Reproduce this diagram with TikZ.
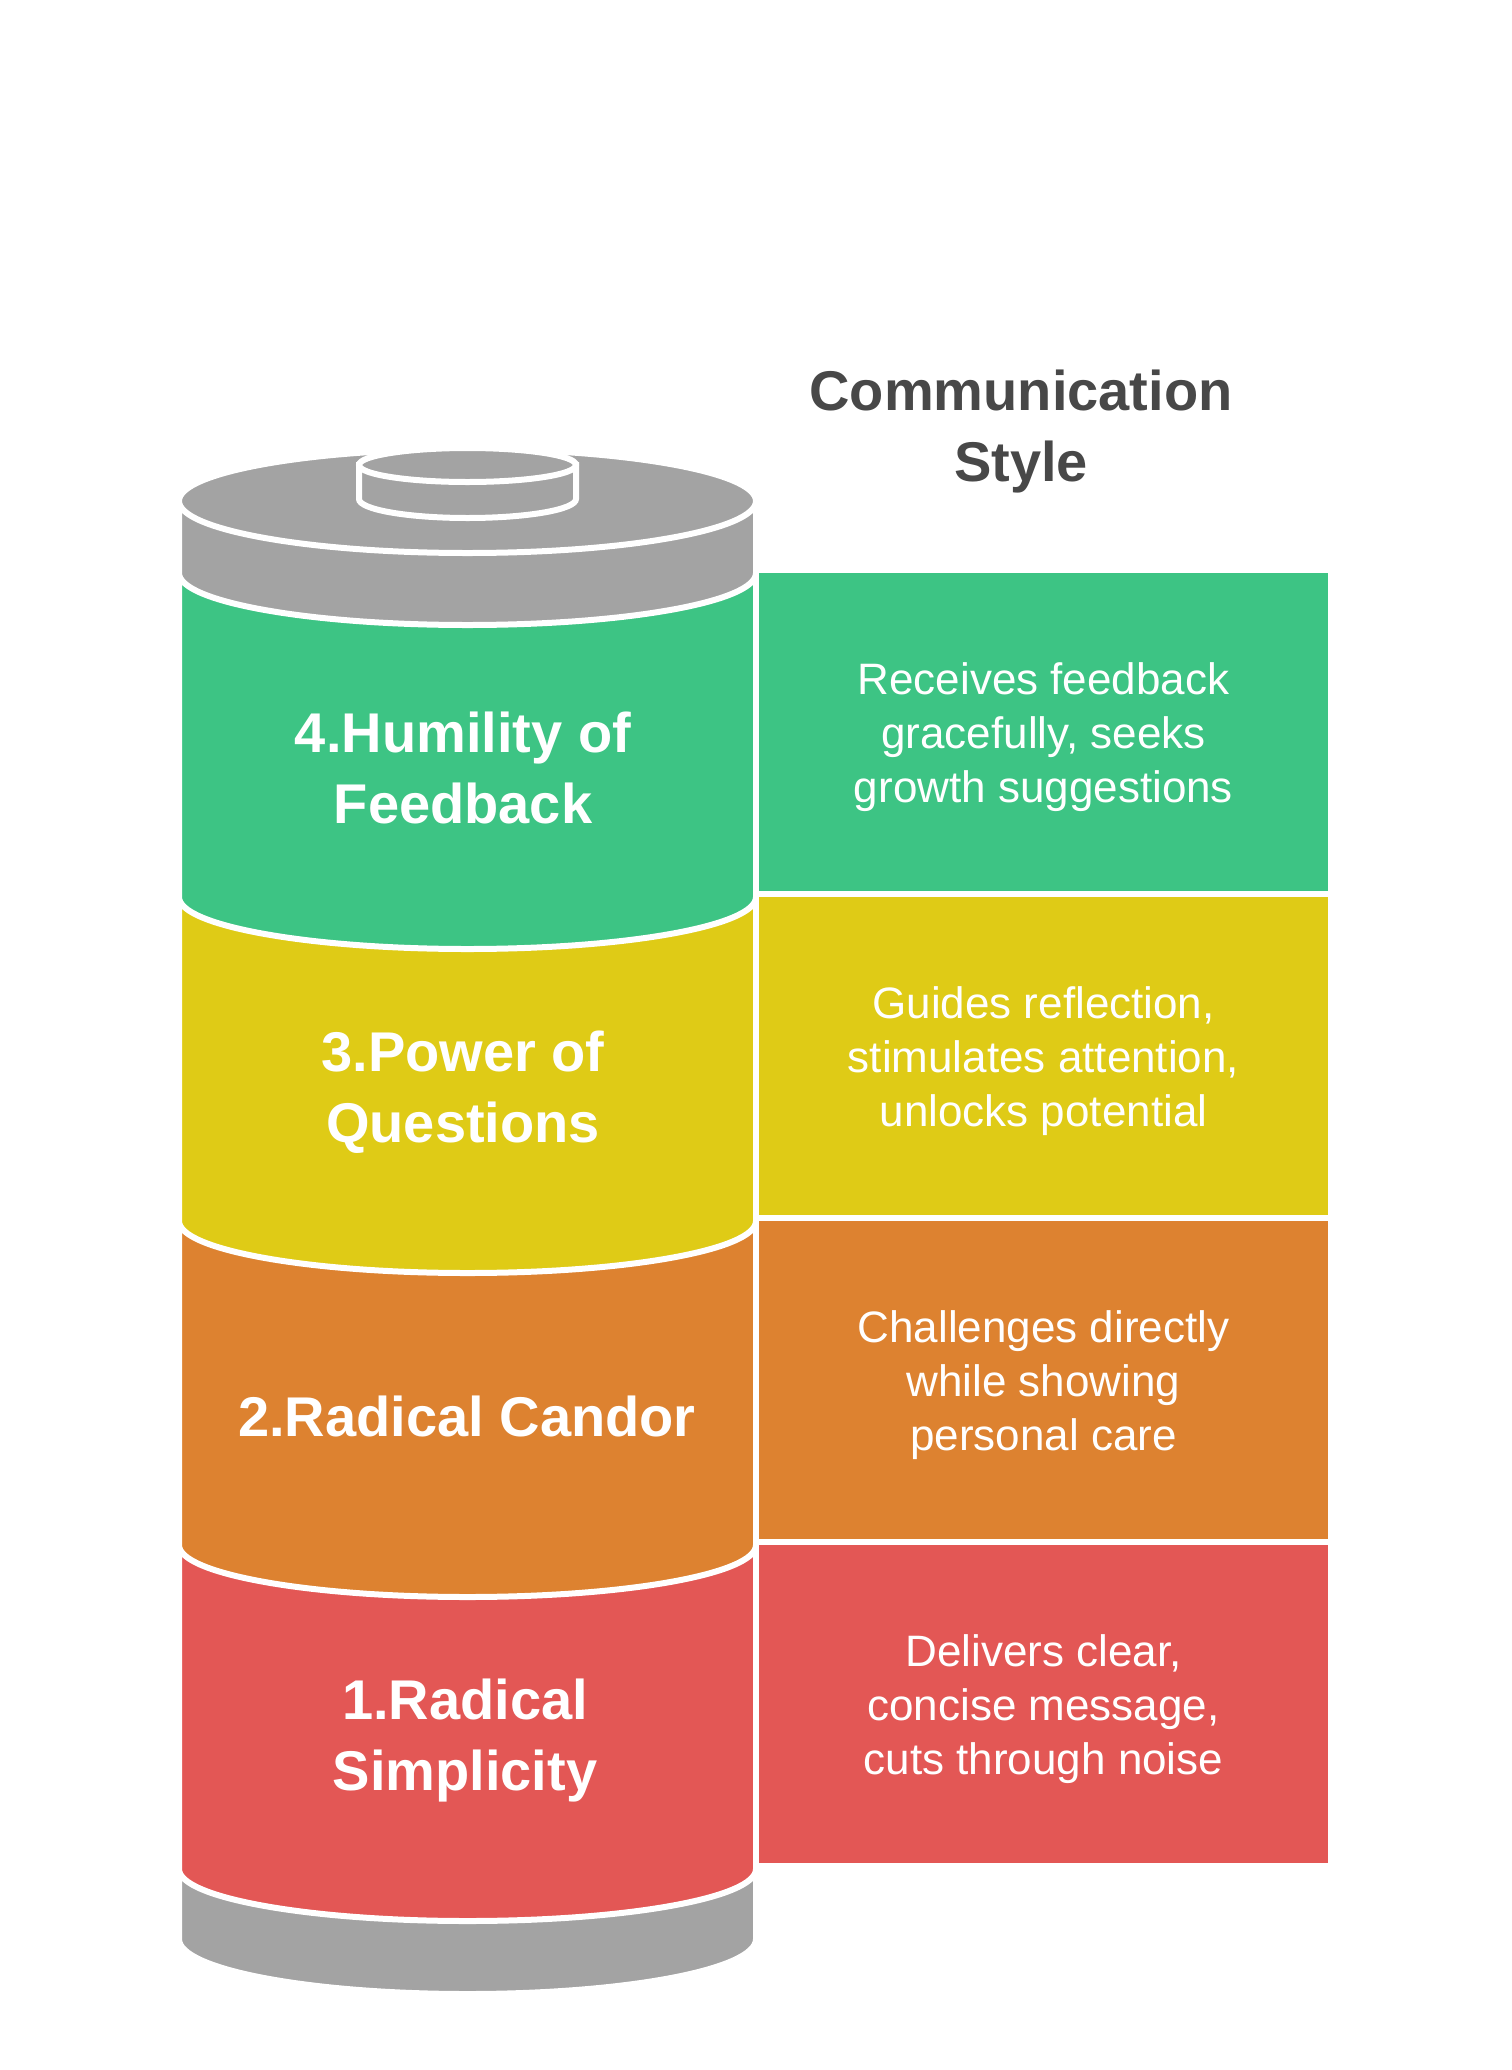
\documentclass[tikz,border=0pt]{standalone}
\usepackage{fontspec}
\setmainfont{Liberation Sans}
\definecolor{cgreen}{HTML}{3DC484}
\definecolor{cyellow}{HTML}{DFCB16}
\definecolor{corange}{HTML}{DD8230}
\definecolor{cred}{HTML}{E35755}
\definecolor{cgray}{HTML}{A3A3A3}
\definecolor{ctitle}{HTML}{484848}
\newcommand\battseg[4]{%
  \fill[#3, draw=white, line width=6pt] (179,-#1) -- (179,-#2)
    arc[start angle=180, end angle=360, x radius=288.5, y radius=#4] -- (756,-#1) -- cycle;}
\begin{document}
\begin{tikzpicture}[x=1pt,y=1pt,
  box/.style={rectangle, inner sep=0pt, minimum width=569pt, minimum height=318pt,
    text=white, align=center, font=\fontsize{44}{54}\selectfont},
  lab/.style={text=white, align=center, inner sep=0pt, font=\fontsize{56}{71}\selectfont\bfseries},
  ttl/.style={text=ctitle, align=center, inner sep=0pt, font=\fontsize{56}{71}\selectfont\bfseries}]
\useasboundingbox (0,0) rectangle (1512,-2070);
% battery body, bottom to top
\battseg{1859}{1939}{cgray}{55}
\battseg{1535}{1869}{cred}{52}
\battseg{1211}{1545}{corange}{52}
\battseg{887}{1221}{cyellow}{52}
\battseg{563}{897}{cgreen}{52}
\battseg{502}{573}{cgray}{52}
\fill[cgray, draw=white, line width=6pt] (467.5,-501) ellipse[x radius=288.5, y radius=52];
% cap
\fill[cgray, draw=white, line width=6pt] (359,-465) -- (359,-499)
  arc[start angle=180, end angle=360, x radius=108.5, y radius=19] -- (576,-465) -- cycle;
\fill[cgray, draw=white, line width=6pt] (467.5,-465) ellipse[x radius=108.5, y radius=17];
% labels on the battery
\node[lab] (l4) at (463,-768) {4.Humility of\\Feedback};
\node[lab] (l3) at (463,-1092) {3.Power of\\Questions};
\node[lab] (l2) at (467,-1416) {2.Radical Candor};
\node[lab] (l1) at (465,-1740) {1.Radical\\Simplicity};
% right boxes
\node[box, fill=cgreen] (b4) at (1043.5,-732) {};
\node[box, fill=cyellow] (b3) at (1043.5,-1056) {};
\node[box, fill=corange] (b2) at (1043.5,-1380) {};
\node[box, fill=cred] (b1) at (1043.5,-1704) {};
\node[box, minimum height=0pt] (t4) at (1043.5,-737) {Receives feedback\\gracefully, seeks\\growth suggestions};
\node[box, minimum height=0pt] (t3) at (1043.5,-1061) {Guides reflection,\\stimulates attention,\\unlocks potential};
\node[box, minimum height=0pt] (t2) at (1043.5,-1385) {Challenges directly\\while showing\\personal care};
\node[box, minimum height=0pt] (t1) at (1043.5,-1709) {Delivers clear,\\concise message,\\cuts through noise};
% title
\node[ttl] (title) at (1021,-432) {Communication\\Style};
\end{tikzpicture}
\end{document}
